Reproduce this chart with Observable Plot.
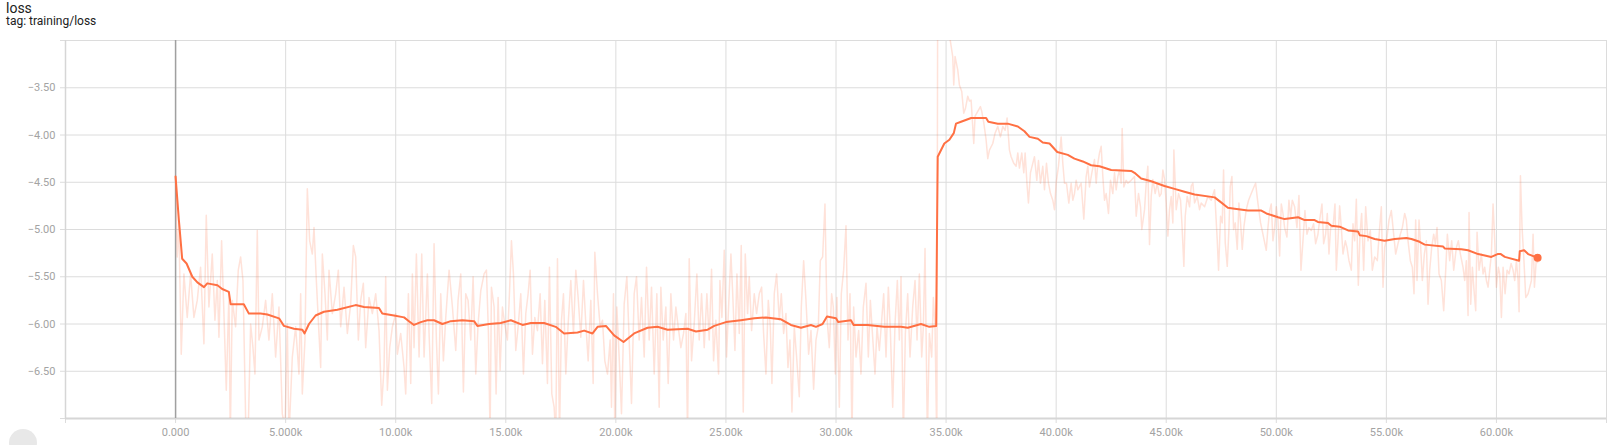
<!DOCTYPE html>
<html>
<head>
<meta charset="utf-8">
<script src="https://cdn.jsdelivr.net/npm/d3@7"></script>
<script src="https://cdn.jsdelivr.net/npm/@observablehq/plot@0.6"></script>
<style>
  html, body { margin: 0; padding: 0; background: #fff; width: 1616px; height: 445px; overflow: hidden; }
  #title { position: absolute; left: 6px; top: 0px; font: 14px/16px Roboto, "Noto Sans", sans-serif; color: #212121; }
  #subtitle { position: absolute; left: 6px; top: 15px; font: 12px/13px Roboto, "Noto Sans", sans-serif; color: #212121; }
  #chart { position: absolute; left: 0; top: 30px; }
  #fitbtn { position: absolute; left: 9px; top: 429px; width: 28px; height: 28px; border-radius: 50%; background: #e8e8e8; }
</style>
</head>
<body>
<div id="title">loss</div>
<div id="subtitle">tag: training/loss</div>
<div id="chart"></div>
<div id="fitbtn"></div>
<script>
// ---- tick values ----
const xGridTicks = [-5000, 0, 5000, 10000, 15000, 20000, 25000, 30000, 35000, 40000, 45000, 50000, 55000, 60000, 65000];
const xLabelTicks = [0, 5000, 10000, 15000, 20000, 25000, 30000, 35000, 40000, 45000, 50000, 55000, 60000];
const yGridTicks = [-3, -3.5, -4, -4.5, -5, -5.5, -6, -6.5, -7];
const yLabelTicks = [-3.5, -4, -4.5, -5, -5.5, -6, -6.5];

// ---- raw (unsmoothed) loss: [step, loss] ----
const rawPoints = [
[0,-4.44],[76,-5.29],[150,-4.94],[258,-6.32],[379,-5.47],[530,-5.93],[682,-5.47],[833,-5.93],[985,-5.75],[1136,-5.40],[1288,-6.21],[1394,-4.85],[1515,-5.82],[1667,-5.26],[1788,-5.96],[1894,-5.54],[1970,-6.14],[2091,-5.12],[2197,-5.89],[2303,-6.70],[2424,-5.68],[2485,-7.2],[2576,-5.75],[2727,-6.03],[2848,-5.43],[2955,-5.29],[3061,-5.54],[3182,-6.99],[3303,-7.1],[3409,-6.00],[3515,-6.25],[3606,-6.53],[3712,-5.01],[3788,-6.17],[3939,-6.03],[4091,-5.75],[4242,-6.17],[4394,-5.68],[4545,-6.35],[4697,-5.82],[4848,-6.95],[4970,-7.1],[5076,-6.00],[5151,-7.2],[5303,-6.35],[5454,-6.03],[5606,-6.53],[5682,-5.68],[5757,-6.74],[5878,-6.17],[5985,-4.57],[6091,-5.12],[6212,-5.26],[6288,-4.98],[6394,-5.54],[6515,-6.10],[6591,-6.46],[6667,-5.26],[6788,-5.68],[6894,-6.17],[6970,-5.43],[7121,-5.89],[7273,-5.68],[7394,-5.43],[7500,-6.03],[7652,-5.61],[7803,-6.10],[7955,-5.79],[8076,-5.17],[8182,-5.29],[8303,-6.17],[8409,-5.75],[8530,-5.57],[8636,-6.25],[8788,-5.72],[8939,-5.89],[9091,-5.68],[9242,-6.07],[9364,-6.86],[9470,-6.46],[9545,-5.50],[9621,-6.70],[9727,-6.25],[9848,-6.03],[10000,-5.89],[10076,-6.32],[10227,-6.10],[10379,-6.46],[10454,-6.74],[10576,-5.68],[10682,-6.63],[10757,-5.47],[10833,-6.25],[10939,-5.26],[11061,-6.35],[11182,-5.26],[11288,-6.35],[11439,-5.47],[11515,-6.10],[11636,-6.84],[11742,-5.15],[11848,-6.17],[11939,-6.74],[12045,-5.68],
[12166,-6.39],[12273,-5.93],[12424,-5.43],[12576,-5.82],[12727,-6.28],[12833,-5.75],[12954,-5.47],[13075,-6.72],[13181,-5.68],[13287,-5.75],[13409,-6.17],[13515,-5.50],[13636,-6.53],[13742,-6.00],[13863,-5.65],[14015,-5.47],[14121,-5.43],[14212,-6.10],[14287,-7.2],[14348,-5.61],[14469,-5.82],[14560,-6.74],[14651,-5.72],[14742,-6.49],[14848,-5.82],[14954,-6.00],[15075,-6.17],[15166,-5.68],[15257,-5.12],[15348,-5.47],[15454,-6.28],[15560,-6.03],[15681,-5.68],[15802,-6.53],[15908,-5.89],[16015,-5.68],[16106,-5.43],[16212,-6.32],[16318,-5.93],[16439,-6.07],[16560,-5.68],[16666,-6.42],[16772,-5.75],[16893,-6.63],[16984,-5.40],[17090,-6.74],[17196,-6.88],[17272,-7.2],[17348,-5.31],[17439,-7.2],[17530,-5.96],[17620,-5.68],[17726,-6.53],[17833,-6.00],[17954,-5.54],[18075,-6.10],[18181,-5.43],[18287,-5.72],[18408,-6.14],[18530,-5.54],[18636,-6.00],[18742,-6.39],[18863,-5.75],[18969,-6.63],[19045,-5.24],[19166,-5.68],[19287,-6.03],[19393,-5.96],[19499,-6.39],[19620,-6.53],[19741,-6.17],[19802,-6.88],[19893,-5.68],[19953,-7.2],[20044,-5.82],[20150,-6.35],[20256,-6.95],[20378,-5.79],[20499,-5.50],[20605,-6.17],[20711,-6.84],[20832,-5.68],[20938,-5.50],[21059,-6.17],[21165,-5.72],[21287,-6.35],[21393,-5.40],[21514,-6.17],[21620,-5.61],[21741,-6.53],[21862,-5.68],[21968,-6.88],[22044,-5.61],[22150,-6.17],[22271,-5.82],[22377,-6.63],[22499,-5.68],[22620,-6.17],[22726,-5.82],[22832,-6.03],[22953,-6.25],[23075,-6.10],[23181,-5.89],[23257,-7.2],[23332,-5.31],[23438,-6.39],[23559,-6.00],[23680,-5.47],[23787,-6.17],[23893,-5.68],[24014,-6.25],[24135,-5.68],[24241,-6.17],[24347,-5.42],[24438,-6.39],[24544,-5.96],
[24666,-6.53],[24727,-5.54],[24818,-5.93],[24924,-5.22],[25030,-6.35],[25121,-5.82],[25227,-5.26],[25303,-5.65],[25409,-6.28],[25500,-5.47],[25606,-6.10],[25696,-5.17],[25787,-6.93],[25878,-5.26],[25984,-5.89],[26060,-5.50],[26166,-6.07],[26287,-5.68],[26393,-5.89],[26515,-5.68],[26621,-5.61],[26711,-6.10],[26818,-6.53],[26924,-5.75],[27015,-6.03],[27090,-6.63],[27196,-5.68],[27302,-5.47],[27424,-5.96],[27515,-5.68],[27621,-6.10],[27727,-5.89],[27818,-6.46],[27908,-6.17],[27999,-6.93],[28105,-6.03],[28211,-6.35],[28333,-6.77],[28424,-5.82],[28530,-5.33],[28636,-5.75],[28757,-6.32],[28863,-6.07],[28984,-6.69],[29090,-6.17],[29196,-6.03],[29287,-5.33],[29393,-5.29],[29499,-4.73],[29590,-5.93],[29696,-6.25],[29802,-5.68],[29878,-5.82],[29969,-6.53],[30044,-5.72],[30151,-6.88],[30241,-5.68],[30347,-5.43],[30454,-4.96],[30545,-6.17],[30636,-5.68],[30727,-7.2],[30802,-5.82],[30908,-6.35],[31029,-6.07],[31135,-6.53],[31241,-5.82],[31363,-5.57],[31469,-6.35],[31560,-5.75],[31666,-6.14],[31772,-6.53],[31863,-6.03],[31969,-6.28],[32075,-5.96],[32166,-5.68],[32272,-6.35],[32378,-5.61],[32469,-6.07],[32575,-6.88],[32681,-6.00],[32787,-5.54],[32878,-6.17],[32954,-5.50],[33060,-7.2],[33151,-6.10],[33257,-5.68],[33362,-6.35],[33484,-5.82],[33590,-5.54],[33681,-6.17],[33787,-5.47],[33893,-6.35],[33968,-6.03],[34044,-5.20],[34151,-7.2],[34241,-6.10],[34347,-6.35],[34423,-5.72],[34499,-6.03],
[34580,-7.3],[34620,-2.4],[34800,-2.5],[35000,-2.7],[35197,-3.01],[35303,-3.17],[35349,-3.47],[35409,-3.17],[35531,-3.31],[35606,-3.47],[35712,-3.54],[35803,-3.77],[35879,-3.72],[35985,-3.59],[36061,-3.64],[36137,-3.63],[36182,-3.80],[36258,-4.09],[36318,-3.80],[36440,-3.75],[36561,-3.70],[36621,-3.75],[36712,-3.87],[36818,-4.05],[36894,-4.25],[36970,-4.16],[37121,-4.09],[37227,-3.98],[37349,-3.91],[37470,-4.02],[37576,-3.91],[37682,-3.95],[37773,-3.82],[37879,-4.16],[37955,-4.23],[38076,-4.30],[38182,-4.33],[38258,-4.19],[38333,-4.35],[38439,-4.19],[38530,-4.40],[38591,-4.19],[38682,-4.54],[38742,-4.72],[38833,-4.40],[38939,-4.30],[39015,-4.23],[39121,-4.48],[39197,-4.27],[39288,-4.51],[39394,-4.33],[39470,-4.58],[39561,-4.30],[39652,-4.51],[39743,-4.62],[39848,-4.69],[39924,-4.79],[40000,-4.51],[40106,-4.33],[40227,-4.02],[40303,-4.30],[40379,-4.51],[40470,-4.51],[40576,-4.72],[40682,-4.51],[40757,-4.69],[40833,-4.62],[40909,-4.48],[40985,-4.58],[41136,-4.51],[41257,-4.89],[41363,-4.44],[41439,-4.33],[41515,-4.55],[41621,-4.40],[41742,-4.26],[41818,-4.51],[41894,-4.30],[41969,-4.19],[42045,-4.12],[42121,-4.44],[42197,-4.69],[42272,-4.62],[42378,-4.83],[42469,-4.48],[42575,-4.62],[42651,-4.40],[42727,-4.58],[42803,-4.44],[42878,-4.37],[42954,-4.51],[42999,-3.93],[43075,-4.55],[43181,-4.48],[43257,-4.51],[43409,-4.48],[43560,-4.44],[43636,-4.86],[43742,-4.62],[43833,-4.76],[43893,-5.00],[44015,-4.79],[44091,-4.51],[44166,-4.33],[44242,-5.16],[44318,-4.65],[44393,-4.47],[44499,-4.62],[44590,-4.51],[44696,-4.65],[44772,-4.62],[44848,-4.37],[44924,-4.47],[44999,-4.72],[45075,-5.07],[45151,-4.79],[45227,-4.65],[45302,-4.93],[45348,-4.16],[45454,-4.79],[45560,-4.62],[45651,-4.69],[45712,-4.93],[45802,-5.39],[45863,-4.86],[45954,-4.65],[46060,-4.76],[46136,-4.54],[46211,-4.51],[46287,-4.72],[46408,-4.65],[46514,-4.79],[46590,-4.72],[46742,-4.76],[46893,-4.65],[47045,-4.69],[47196,-4.58],[47317,-5.11],[47378,-5.43],[47469,-4.86],[47545,-4.93],[47605,-4.37],[47681,-5.14],[47772,-5.39],[47848,-5.00],[47908,-4.55],[47984,-4.44],[48060,-5.00],[48136,-4.93],[48227,-5.21],[48302,-4.72],[48378,-4.93],[48454,-5.21],[48530,-4.97],[48636,-4.79],[48742,-4.69],[48863,-4.62],[48984,-4.55],[49060,-4.51],[49166,-4.72],[49287,-4.93],
[49545,-5.22],[49621,-4.98],[49697,-4.80],[49772,-4.73],[49848,-5.12],[49924,-4.98],[50000,-4.76],[50075,-4.90],[50151,-5.28],[50227,-4.73],[50303,-4.83],[50378,-4.98],[50484,-5.08],[50575,-4.69],[50651,-4.87],[50727,-4.69],[50833,-4.76],[50939,-4.98],[51030,-4.64],[51121,-5.43],[51212,-5.12],[51302,-4.80],[51393,-5.05],[51484,-4.98],[51590,-5.01],[51696,-4.94],[51787,-5.15],[51893,-5.05],[51969,-4.90],[52075,-4.73],[52151,-5.15],[52242,-5.05],[52317,-4.83],[52393,-5.26],[52469,-4.98],[52575,-4.98],[52666,-4.73],[52727,-5.43],[52802,-5.12],[52878,-4.75],[52954,-4.98],[53030,-5.26],[53136,-5.12],[53211,-5.19],[53302,-5.33],[53408,-5.43],[53484,-4.94],[53560,-5.12],[53636,-4.68],[53726,-5.59],[53802,-5.05],[53878,-4.83],[53969,-5.43],[54060,-4.76],[54166,-5.12],[54272,-5.01],[54363,-5.43],[54469,-5.29],[54590,-5.33],[54696,-4.98],[54772,-4.76],[54848,-5.61],[54923,-5.19],[55029,-5.08],[55120,-4.90],[55226,-4.80],[55302,-4.98],[55423,-5.26],[55529,-5.15],[55635,-5.05],[55726,-4.98],[55832,-4.83],[55908,-4.90],[55984,-5.12],[56090,-5.33],[56181,-5.40],[56256,-5.68],[56332,-4.90],[56393,-5.54],[56484,-4.90],[56560,-5.19],[56635,-5.54],[56726,-5.26],[56817,-5.12],[56893,-5.79],[56969,-5.43],[57059,-5.19],[57150,-5.05],[57226,-5.15],[57302,-4.98],[57393,-5.47],[57499,-5.54],[57605,-5.86],[57696,-5.43],[57771,-5.05],[57877,-5.33],[57968,-5.12],[58059,-5.43],[58181,-5.19],[58271,-5.12],[58362,-5.26],[58484,-5.40],[58559,-5.54],[58635,-5.33],[58711,-5.91],[58756,-4.82],[58832,-5.79],[58908,-5.40],[58984,-5.65],[59059,-5.86],[59120,-5.03],[59211,-5.43],[59317,-5.26],[59393,-5.47],[59468,-5.40],[59544,-5.54],[59620,-5.61],[59696,-5.43],[59771,-5.26],[59847,-4.73],[59923,-5.12],[59999,-5.61],[60089,-5.40],[60150,-5.47],[60226,-5.93],[60302,-5.40],[60393,-5.68],[60484,-5.43],[60574,-5.47],[60665,-5.36],[60756,-5.43],[60832,-5.54],[60908,-5.33],[60983,-5.54],[61029,-5.87],[61090,-4.43],[61165,-4.98],[61241,-5.29],[61332,-5.72],[61438,-5.68],[61514,-5.61],[61589,-5.54],[61665,-5.05],[61726,-5.61],[61817,-5.30],[61870,-5.35]
];

// ---- smoothed loss: [step, loss] ----
const smoothPoints = [
[0,-4.44],[150,-4.90],[180,-4.98],[300,-5.31],[500,-5.36],[760,-5.50],[990,-5.56],[1290,-5.61],[1440,-5.57],[1900,-5.59],[2120,-5.63],[2420,-5.66],[2500,-5.79],[3100,-5.79],[3330,-5.89],[3860,-5.89],[4170,-5.90],[4700,-5.94],[4920,-6.02],[5380,-6.05],[5760,-6.06],[5860,-6.10],[6060,-6.00],[6360,-5.91],[6740,-5.87],[7350,-5.85],[8180,-5.80],[8560,-5.82],[9240,-5.83],[9390,-5.89],[9920,-5.91],[10380,-5.93],[10600,-5.97],[10830,-6.01],[11140,-5.98],[11440,-5.96],[11740,-5.96],[12120,-6.00],[12500,-5.97],[13030,-5.96],[13560,-5.97],[13710,-6.02],[14240,-6.00],[14770,-5.99],[15230,-5.96],[15760,-6.01],[16140,-5.99],[16740,-5.99],[17270,-6.03],[17650,-6.10],[18260,-6.09],[18560,-6.07],[18940,-6.10],[19170,-6.03],[19550,-6.02],[19920,-6.12],[20350,-6.19],[20830,-6.10],[21440,-6.04],[21890,-6.03],[22350,-6.06],[23260,-6.05],[23640,-6.08],[24170,-6.06],[24470,-6.02],[25000,-5.98],[25680,-5.96],[26290,-5.94],[26820,-5.93],[27500,-5.95],[27950,-6.01],[28410,-6.04],[28860,-6.01],[29090,-6.03],[29390,-6.00],[29590,-5.92],[30000,-5.94],[30100,-5.98],[30680,-5.96],[30800,-6.01],[31440,-6.01],[32200,-6.03],[32950,-6.03],[33260,-6.04],[33860,-6.00],[34240,-6.03],[34550,-6.02],
[34620,-4.23],[34920,-4.09],[35150,-4.05],[35350,-3.98],[35450,-3.88],[35680,-3.86],[36140,-3.82],[36820,-3.82],[36920,-3.86],[37350,-3.88],[37800,-3.88],[38260,-3.91],[38560,-3.96],[38790,-4.02],[39170,-4.04],[39390,-4.08],[39700,-4.09],[40050,-4.18],[40530,-4.21],[40830,-4.25],[41210,-4.28],[41590,-4.32],[41970,-4.33],[42500,-4.37],[43410,-4.38],[43560,-4.40],[43860,-4.46],[44320,-4.49],[44920,-4.54],[45380,-4.57],[45830,-4.60],[46290,-4.63],[47200,-4.66],[47420,-4.70],[47800,-4.77],[48110,-4.78],[48710,-4.80],[49320,-4.80],[49550,-4.83],[50080,-4.87],[50380,-4.89],[50990,-4.87],[51290,-4.90],[51740,-4.90],[51890,-4.92],[52350,-4.93],[52500,-4.96],[52880,-4.97],[53260,-5.01],[53710,-5.02],[53790,-5.06],[54090,-5.07],[54470,-5.10],[54920,-5.12],[55380,-5.10],[55910,-5.09],[56140,-5.10],[56510,-5.13],[56740,-5.16],[57580,-5.18],[57650,-5.20],[58410,-5.21],[58710,-5.22],[59170,-5.26],[59770,-5.29],[60050,-5.26],[60200,-5.26],[60380,-5.29],[61030,-5.33],[61060,-5.23],[61260,-5.22],[61440,-5.26],[61870,-5.30]
];

const raw = rawPoints.map(([step, loss]) => ({step, loss}));
const smooth = smoothPoints.map(([step, loss]) => ({step, loss}));
const last = [smooth[smooth.length - 1]];

const fmtX = d3.format(".4s");
const fmtY = d3.format(".2f");
const orange = "#ff7043";
const gridColor = "#dcdcdc";

const chart = Plot.plot({
  width: 1616,
  height: 415,
  marginLeft: 65,
  marginRight: 10,
  marginTop: 10,
  marginBottom: 27,
  x: {domain: [-5000, 65000]},
  y: {domain: [-7, -3]},
  style: {fontFamily: "Roboto, 'Noto Sans', sans-serif", fontSize: "11px", background: "#fff", overflow: "visible"},
  marks: [
    Plot.gridX(xGridTicks, {stroke: gridColor, strokeOpacity: 1}),
    Plot.gridY(yGridTicks, {stroke: gridColor, strokeOpacity: 1}),
    Plot.axisX(xGridTicks, {tickSize: 5, tickFormat: () => "", stroke: gridColor, label: null}),
    Plot.axisX(xLabelTicks, {tickSize: 0, tickPadding: 10, tickFormat: fmtX, fill: "#a3a3a3", label: null}),
    Plot.axisY(yGridTicks, {tickSize: 5, tickPadding: 5, stroke: gridColor, tickFormat: d => yLabelTicks.includes(d) ? fmtY(d) : "", fill: "#a3a3a3", label: null}),
    Plot.ruleY([-7], {stroke: "#d6d6d6", strokeWidth: 2}),
    Plot.ruleX([-5000], {stroke: "#d6d6d6", strokeWidth: 1.5}),
    Plot.ruleX([0], {stroke: "#a0a0a0", strokeWidth: 1.5}),
    Plot.line(raw, {x: "step", y: "loss", stroke: orange, strokeOpacity: 0.2, strokeWidth: 1.5, clip: true}),
    Plot.line(smooth, {x: "step", y: "loss", stroke: orange, strokeWidth: 2, clip: true}),
    Plot.dot(last, {x: "step", y: "loss", r: 4, fill: orange, stroke: "none"})
  ]
});
document.getElementById("chart").appendChild(chart);
</script>
</body>
</html>
